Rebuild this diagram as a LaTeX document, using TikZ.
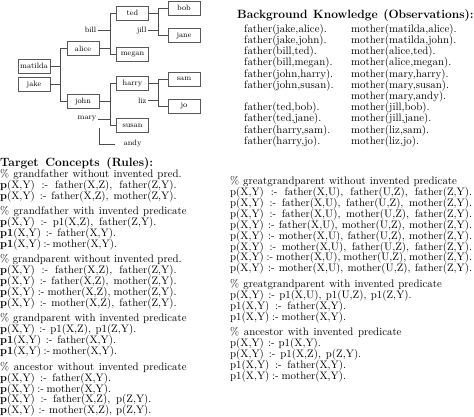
\documentclass[tikz,border=0pt]{standalone}
\usepackage{amsmath}
\usetikzlibrary{positioning}
\newlength{\charw}
\setlength{\charw}{5.04pt}
\newcommand{\gridline}[2]{\makebox[#1\charw][s]{#2}}
\frenchspacing

\begin{document}
\begin{tikzpicture}[x=1pt, y=-1pt,
  person/.style={draw=black!65, line width=0.5pt, minimum width=32, minimum height=14, inner sep=0, font=\fontsize{7.8}{9}\selectfont},
  partner/.style={inner sep=1.5pt, font=\fontsize{7.8}{9}\selectfont},
  link/.style={draw=black!70, line width=0.6pt},
  facts/.style={align=left, inner sep=0, anchor=north west, font=\fontsize{10.85}{11.2}\selectfont},
  rules/.style={align=left, inner sep=0, anchor=north west, font=\fontsize{10.85}{10.95}\selectfont},
  heading/.style={inner sep=0, anchor=north west, font=\fontsize{12}{12.5}\selectfont\bfseries}]
\useasboundingbox (0,0) rectangle (474,416);

% family tree
\node[person] (matilda) at (34,66.3) {matilda};
\node[person, below=3.4pt of matilda] (jake) {jake};
\node[person] (alice) at (83,48.7) {alice};
\node[person] (john) at (83,101.3) {john};
\node[person] (ted) at (132.5,13) {ted};
\node[person] (megan) at (132.5,54.5) {megan};
\node[person] (harry) at (132.5,83.7) {harry};
\node[person] (susan) at (132.5,125.5) {susan};
\node[person] (bob) at (184,7.8) {bob};
\node[person] (jane) at (184,35.5) {jane};
\node[person] (sam) at (184,78.8) {sam};
\node[person] (jo) at (184,106.2) {jo};
\node[partner, anchor=east] (bill) at (98,30) {bill};
\node[partner, anchor=east] (jill) at (148,30.7) {jill};
\node[partner, anchor=east] (mary) at (98,119) {mary};
\node[partner, anchor=east] (liz) at (148,100.7) {liz};
\node[partner, anchor=west] (andy) at (122,144) {andy};

\coordinate (g1) at (60,0);
\coordinate (g2) at (110,0);
\coordinate (g3) at (158.3,0);
\draw[link] (matilda.east) -- (matilda.east -| g1);
\draw[link] (jake.east) -- (jake.east -| g1);
\draw[link] (alice.west) -- (alice.west -| g1) |- (john.west);
\draw[link] (alice.east) -- (alice.east -| g2);
\draw[link] (bill.east) -- (bill.east -| g2);
\draw[link] (ted.west) -- (ted.west -| g2) |- (megan.west);
\draw[link] (john.east) -- (john.east -| g2);
\draw[link] (mary.east) -- (mary.east -| g2);
\draw[link] (harry.west) -- (harry.west -| g2) |- (susan.west);
\draw[link] ([shift={(1pt,-9pt)}]mary.east) |- ([xshift=-7pt]andy.west);
\draw[link] (ted.east) -- (ted.east -| g3);
\draw[link] (jill.east) -- (jill.east -| g3);
\draw[link] (bob.west) -- (bob.west -| g3) |- (jane.west);
\draw[link] (harry.east) -- (harry.east -| g3);
\draw[link] (liz.east) -- (liz.east -| g3);
\draw[link] (sam.west) -- (sam.west -| g3) |- (jo.west);

% observations
\node[heading] (bk) at (237,9) {\makebox[236.5pt][s]{Background Knowledge (Observations):}};
\node[facts] (fathers) at (244,24) {father(jake,alice).\\ father(jake,john).\\ father(bill,ted).\\
  father(bill,megan).\\ father(john,harry).\\ father(john,susan).\\[11.2pt] father(ted,bob).\\
  father(ted,jane).\\ father(harry,sam).\\ father(harry,jo).};
\node[facts] (mothers) at (351,24) {mother(matilda,alice).\\ mother(matilda,john).\\ mother(alice,ted).\\
  mother(alice,megan).\\ mother(mary,harry).\\ mother(mary,susan).\\ mother(mary,andy).\\
  mother(jill,bob).\\ mother(jill,jane).\\ mother(liz,sam).\\ mother(liz,jo).};

% rules
\node[heading] (tc) at (0,157) {\makebox[153pt][s]{Target Concepts (Rules):}};
\node[rules] (rulesleft) at (0,169) {\gridline{36}{\%\ grandfather without invented pred.}\\
  \gridline{35}{\textbf{p}(X,Y) :- father(X,Z), father(Z,Y).}\\
  \gridline{35}{\textbf{p}(X,Y) :- father(X,Z), mother(Z,Y).}\\[4.4pt]
  \gridline{37}{\%\ grandfather with invented predicate}\\
  \gridline{31}{\textbf{p}(X,Y) :- p1(X,Z), father(Z,Y).}\\
  \gridline{23}{\textbf{p1}(X,Y) :- father(X,Y).}\\
  \gridline{23}{\textbf{p1}(X,Y) :- mother(X,Y).}\\[4.4pt]
  \gridline{36}{\%\ grandparent without invented pred.}\\
  \gridline{35}{\textbf{p}(X,Y) :- father(X,Z), father(Z,Y).}\\
  \gridline{35}{\textbf{p}(X,Y) :- father(X,Z), mother(Z,Y).}\\
  \gridline{35}{\textbf{p}(X,Y) :- mother(X,Z), mother(Z,Y).}\\
  \gridline{35}{\textbf{p}(X,Y) :- mother(X,Z), father(Z,Y).}\\[4.4pt]
  \gridline{37}{\%\ grandparent with invented predicate}\\
  \gridline{27}{\textbf{p}(X,Y) :- p1(X,Z), p1(Z,Y).}\\
  \gridline{23}{\textbf{p1}(X,Y) :- father(X,Y).}\\
  \gridline{23}{\textbf{p1}(X,Y) :- mother(X,Y).}\\[4.4pt]
  \gridline{37}{\%\ ancestor without invented predicate}\\
  \gridline{22}{\textbf{p}(X,Y) :- father(X,Y).}\\
  \gridline{22}{\textbf{p}(X,Y) :- mother(X,Y).}\\
  \gridline{30}{\textbf{p}(X,Y) :- father(X,Z), p(Z,Y).}\\
  \gridline{30}{\textbf{p}(X,Y) :- mother(X,Z), p(Z,Y).}};
\node[rules] (rulesright) at (230,176) {\gridline{45}{\%\ greatgrandparent without invented predicate}\\
  \gridline{48}{p(X,Y) :- father(X,U), father(U,Z), father(Z,Y).}\\
  \gridline{48}{p(X,Y) :- father(X,U), father(U,Z), mother(Z,Y).}\\
  \gridline{48}{p(X,Y) :- father(X,U), mother(U,Z), father(Z,Y).}\\
  \gridline{48}{p(X,Y) :- father(X,U), mother(U,Z), mother(Z,Y).}\\
  \gridline{48}{p(X,Y) :- mother(X,U), father(U,Z), mother(Z,Y).}\\
  \gridline{48}{p(X,Y) :- mother(X,U), father(U,Z), father(Z,Y).}\\
  \gridline{48}{p(X,Y) :- mother(X,U), mother(U,Z), mother(Z,Y).}\\
  \gridline{48}{p(X,Y) :- mother(X,U), mother(U,Z), father(Z,Y).}\\[4.4pt]
  \gridline{42}{\%\ greatgrandparent with invented predicate}\\
  \gridline{36}{p(X,Y) :- p1(X,U), p1(U,Z), p1(Z,Y).}\\
  \gridline{23}{p1(X,Y) :- father(X,Y).}\\
  \gridline{23}{p1(X,Y) :- mother(X,Y).}\\[4.4pt]
  \gridline{34}{\%\ ancestor with invented predicate}\\
  \gridline{18}{p(X,Y) :- p1(X,Y).}\\
  \gridline{26}{p(X,Y) :- p1(X,Z), p(Z,Y).}\\
  \gridline{23}{p1(X,Y) :- father(X,Y).}\\
  \gridline{23}{p1(X,Y) :- mother(X,Y).}};
\end{tikzpicture}
\end{document}
